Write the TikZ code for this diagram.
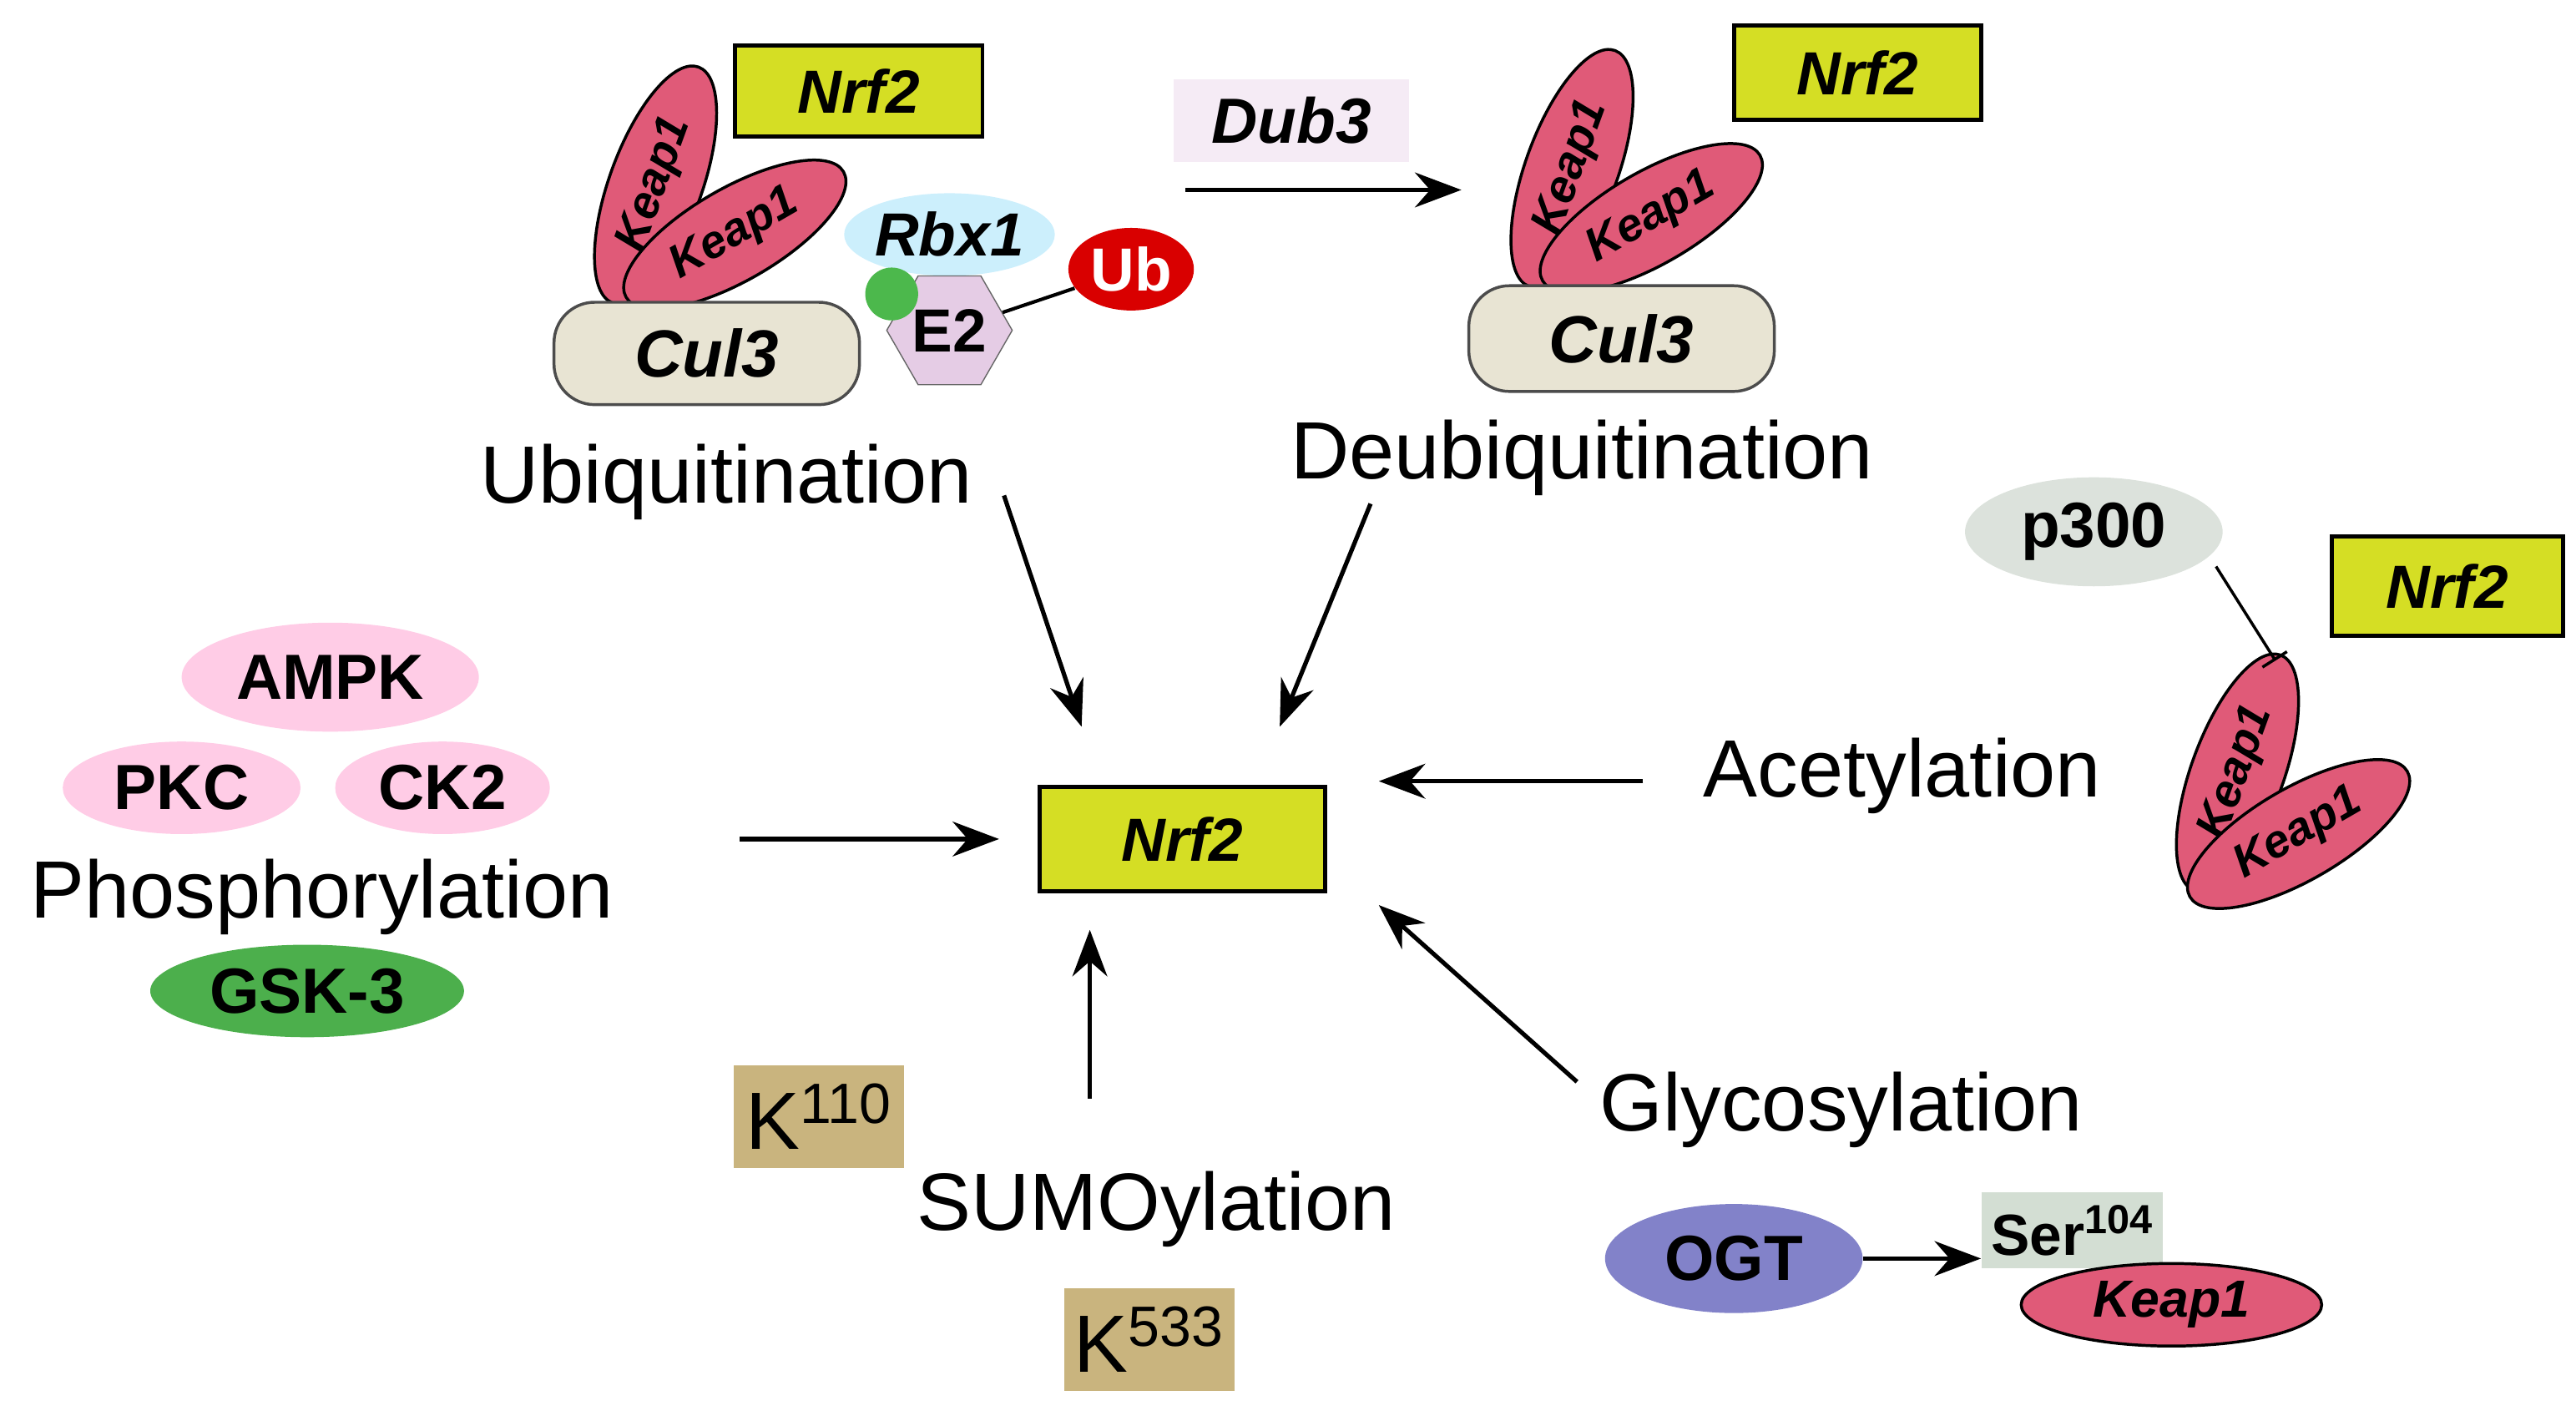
\documentclass[tikz,border=0pt]{standalone}
\usepackage{fontspec}
\setmainfont{Liberation Sans}
\usetikzlibrary{shapes.geometric,arrows.meta}
\definecolor{nrf}{HTML}{D5DE24}
\definecolor{keap}{HTML}{E05A78}
\definecolor{cul}{HTML}{E8E4D3}
\definecolor{tanc}{HTML}{C9B47E}
\begin{document}
\begin{tikzpicture}[x=0.02cm,y=-0.02cm,
 nrfbox/.style={draw=black,line width=1.4pt,fill=nrf,font=\fontsize{21}{23}\selectfont\bfseries\itshape,inner sep=0pt},
 keap/.style={ellipse,draw=black,line width=1pt,fill=keap,minimum width=152*0.02cm,minimum height=56*0.02cm,font=\fontsize{16}{18}\selectfont\bfseries\itshape,inner sep=0pt},
 cul/.style={rounded corners=14pt,draw=black!70,line width=1pt,fill=cul,font=\fontsize{23}{25}\selectfont\bfseries\itshape,inner sep=0pt},
 lab/.style={font=\fontsize{28}{32}\selectfont},
 oval/.style={ellipse,font=\fontsize{22}{24}\selectfont\bfseries,inner sep=0pt},
 arr/.style={-{Stealth[length=16pt,width=12pt]},line width=1.5pt},
 tan/.style={fill=tanc,font=\fontsize{28}{30}\selectfont,inner sep=0pt}]
\useasboundingbox (0,0) rectangle (1560,854);
% top-left complex
\node[nrfbox,minimum width=150*0.02cm,minimum height=55*0.02cm] (n1) at (520,55) {Nrf2};
\node[keap,rotate=70] (k1) at (397,112) {Keap1};
\node[keap,rotate=30] (k2) at (445,142) {Keap1};
\node[cul,minimum width=185*0.02cm,minimum height=62*0.02cm] (c1) at (428,214) {Cul3};
\node[ellipse,fill=cyan!20,minimum width=120*0.02cm,minimum height=50*0.02cm,font=\fontsize{21}{23}\selectfont\bfseries\itshape,inner sep=0pt] (rbx) at (575,142) {Rbx1};
\node[regular polygon,regular polygon sides=6,draw=black!60,fill=violet!20,minimum size=76*0.02cm,font=\fontsize{21}{23}\selectfont\bfseries,inner sep=0pt] (e2) at (575,200) {E2};
\node[circle,fill=green!60!black!70,minimum size=32*0.02cm,inner sep=0pt] (g) at (540,178) {};
\node[ellipse,fill=red!85!black,text=white,minimum width=76*0.02cm,minimum height=50*0.02cm,font=\fontsize{21}{23}\selectfont\bfseries,inner sep=0pt] (ub) at (685,163) {Ub};
\draw[line width=1.2pt] (e2) -- (ub);
\node[fill=violet!8,minimum width=143*0.02cm,minimum height=50*0.02cm,font=\fontsize{22}{24}\selectfont\bfseries\itshape,inner sep=0pt] (dub) at (782,73) {Dub3};
\coordinate (d1) at (718,115); \coordinate (d2) at (885,115);
\draw[arr] (d1) -- (d2);
% top-right complex
\node[nrfbox,minimum width=150*0.02cm,minimum height=57*0.02cm] (n2) at (1125,44) {Nrf2};
\node[keap,rotate=70] (k3) at (952,102) {Keap1};
\node[keap,rotate=30] (k4) at (1000,132) {Keap1};
\node[cul,minimum width=185*0.02cm,minimum height=64*0.02cm] (c2) at (982,205) {Cul3};
\node[lab] (ubq) at (440,292) {Ubiquitination};
\node[lab] (dubq) at (958,277) {Deubiquitination};
% center
\node[nrfbox,minimum width=173*0.02cm,minimum height=63*0.02cm] (nc) at (716,508) {Nrf2};
\coordinate (a1) at (608,300); \coordinate (a1e) at (655,440);
\coordinate (a2) at (830,305); \coordinate (a2e) at (775,440);
\draw[arr] (a1) -- (a1e); \draw[arr] (a2) -- (a2e);
% acetylation
\node[oval,fill=green!10!gray!25,minimum width=156*0.02cm,minimum height=66*0.02cm] (p300) at (1268,322) {p300};
\node[nrfbox,minimum width=140*0.02cm,minimum height=60*0.02cm] (n3) at (1482,355) {Nrf2};
\node[keap,rotate=70] (k5) at (1355,468) {Keap1};
\node[keap,rotate=30] (k6) at (1392,505) {Keap1};
\coordinate (i1) at (1342,343); \coordinate (i2) at (1378,400);
\draw[-{Bar[width=10pt]},line width=1pt] (i1) -- (i2);
\node[lab] (acet) at (1152,470) {Acetylation};
\coordinate (b1) at (995,473); \coordinate (b1e) at (835,473);
\draw[arr] (b1) -- (b1e);
% phosphorylation
\node[oval,fill=pink!80!magenta!50,minimum width=180*0.02cm,minimum height=66*0.02cm] (ampk) at (200,410) {AMPK};
\node[oval,fill=pink!80!magenta!50,minimum width=144*0.02cm,minimum height=56*0.02cm] (pkc) at (110,477) {PKC};
\node[oval,fill=pink!80!magenta!50,minimum width=130*0.02cm,minimum height=56*0.02cm] (ck2) at (268,477) {CK2};
\node[lab] (phos) at (195,543) {Phosphorylation};
\node[oval,fill=green!55!black!70,minimum width=190*0.02cm,minimum height=56*0.02cm] (gsk) at (186,600) {GSK-3};
\coordinate (c1s) at (448,508); \coordinate (c1e) at (605,508);
\draw[arr] (c1s) -- (c1e);
% SUMO
\coordinate (s1) at (660,665); \coordinate (s1e) at (660,563);
\draw[arr] (s1) -- (s1e);
\node[tan,minimum width=103*0.02cm,minimum height=62*0.02cm] (k110) at (496,676) {K\textsuperscript{110}};
\node[tan,minimum width=103*0.02cm,minimum height=62*0.02cm] (k533) at (696,811) {K\textsuperscript{533}};
\node[lab] (sumo) at (700,732) {SUMOylation};
% glyco
\node[lab] (gly) at (1115,672) {Glycosylation};
\coordinate (g1) at (955,655); \coordinate (g1e) at (835,548);
\draw[arr] (g1) -- (g1e);
\node[oval,fill=blue!40!gray!70,minimum width=156*0.02cm,minimum height=66*0.02cm] (ogt) at (1050,762) {OGT};
\node[fill=green!15!gray!30,minimum width=110*0.02cm,minimum height=46*0.02cm,font=\fontsize{20}{22}\selectfont\bfseries,inner sep=0pt] (ser) at (1255,745) {Ser\textsuperscript{104}};
\node[keap,minimum width=182*0.02cm,minimum height=50*0.02cm,font=\fontsize{18}{20}\selectfont\bfseries\itshape] (k7) at (1315,790) {Keap1};
\draw[arr] (ogt) -- (ser.west|-ogt);
\end{tikzpicture}
\end{document}
